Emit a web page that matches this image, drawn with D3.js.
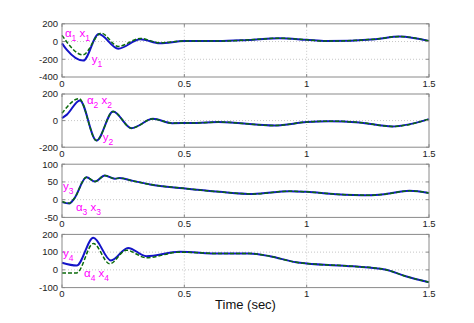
<!DOCTYPE html>
<html lang="en">
<head>
<meta charset="utf-8">
<title>Tracking response</title>
<script src="https://cdn.jsdelivr.net/npm/d3@7"></script>
<style>
  body { margin: 0; background: #fff; }
  text { font-family: "Liberation Sans", Arial, sans-serif; }
</style>
</head>
<body>
<script>
// sizes
var w = 474, h = 323;
var left = 62, right = 429;
var top0 = 23.8, step = 70.2, ph = 53.2;

// time axis
var xTicks = [0, 0.5, 1, 1.5];
var xTickLabels = ["0", "0.5", "1", "1.5"];

// y ranges and ticks per subplot
var yDomains = [[-400, 200], [-200, 200], [-50, 100], [-100, 200]];
var yTicks = [[-400, -200, 0, 200], [-200, 0, 200], [-50, 0, 50, 100], [-100, 0, 100, 200]];

// output y_i (solid blue)
var tY1 = [0, 0.02, 0.087, 0.15, 0.23, 0.32, 0.40, 0.5, 0.64, 0.76, 0.89, 1.0, 1.08, 1.28, 1.38, 1.5];
var vY1 = [-20, -95, -215, 85, -80, 25, -20, 6, 5, 18, 38, 19, 5, 27, 57, 5];
var tY2 = [0, 0.02, 0.073, 0.141, 0.209, 0.284, 0.372, 0.45, 0.55, 0.64, 0.87, 1.0, 1.09, 1.215, 1.35, 1.5];
var vY2 = [19, 45, 152, -150, 69, -57, 13, -19, -18, -11, -37, -11, -4, -14, -44, 11];
var tY3 = [0, 0.03, 0.05, 0.10, 0.135, 0.175, 0.216, 0.236, 0.29, 0.36, 0.495, 0.644, 0.78, 0.93, 1.0, 1.12, 1.255, 1.32, 1.42, 1.5];
var vY3 = [-7, -11, 3, 63, 51, 68, 59, 61, 53, 43, 32, 22, 16, 24, 22, 15.5, 12.6, 15.5, 25, 19];
var tY4 = [0, 0.06, 0.128, 0.20, 0.27, 0.345, 0.48, 0.644, 0.766, 0.85, 0.957, 1.0, 1.19, 1.32, 1.405, 1.5];
var vY4 = [40, 24, 181, 53, 124, 77, 102, 92, 92, 77, 43, 36, 20, 2, -36, -70];

// reference alpha_i x_i (dashed green)
var tX1 = [0, 0.085, 0.16, 0.23, 0.32, 0.40, 0.5, 0.64, 0.76, 0.89, 1.0, 1.08, 1.28, 1.38, 1.5];
var vX1 = [70, -150, 95, -55, 35, -15, 6, 5, 18, 38, 19, 5, 27, 57, 5];
var tX2 = [0, 0.07, 0.141, 0.209, 0.284, 0.372, 0.45, 0.55, 0.64, 0.87, 1.0, 1.09, 1.215, 1.35, 1.5];
var vX2 = [55, 165, -150, 69, -57, 13, -19, -18, -11, -37, -11, -4, -14, -44, 11];
var tX3 = tY3;
var vX3 = [-5, -10, 3, 63, 51, 68, 59, 61, 53, 43, 32, 22, 16, 24, 22, 15.5, 12.6, 15.5, 25, 19];
var tX4 = [0, 0.06, 0.128, 0.195, 0.263, 0.345, 0.48, 0.644, 0.766, 0.85, 0.957, 1.0, 1.19, 1.32, 1.405, 1.5];
var vX4 = [-17, -17, 149, 34, 111, 68, 100, 92, 92, 77, 43, 36, 20, 2, -36, -70];

// label anchors in data units: [t, value]
var yLabelPos = [[0.122, -241], [0.167, -152], [0.004, 27], [0.004, 75]];
var xLabelPos = [[0.012, 53], [0.102, 127], [0.057, -33], [0.09, -38]];

var outT = [tY1, tY2, tY3, tY4], outV = [vY1, vY2, vY3, vY4];
var refT = [tX1, tX2, tX3, tX4], refV = [vX1, vX2, vX3, vX4];

var svg = d3.select("body").append("svg")
  .attr("width", w).attr("height", h);

var x = d3.scaleLinear().domain([0, 1.5]).range([left, right]);

function zip(ts, vs) {
  return ts.map(function(t, i) { return [t, vs[i]]; });
}

// one subplot
function panel(k) {
  var y0 = top0 + k * step;
  var y = d3.scaleLinear().domain(yDomains[k]).range([y0 + ph, y0]);
  var g = svg.append("g");

  // dotted grid
  g.selectAll(".gx").data(xTicks.slice(1, -1)).enter().append("line")
    .attr("x1", d => x(d)).attr("x2", d => x(d))
    .attr("y1", y0).attr("y2", y0 + ph)
    .attr("stroke", "#b8b8b8").attr("stroke-width", 0.8)
    .attr("stroke-dasharray", "1,2");
  g.selectAll(".gy").data(yTicks[k].slice(1, -1)).enter().append("line")
    .attr("x1", left).attr("x2", right)
    .attr("y1", d => y(d)).attr("y2", d => y(d))
    .attr("stroke", "#b8b8b8").attr("stroke-width", 0.8)
    .attr("stroke-dasharray", "1,2");

  var line = d3.line()
    .x(d => x(d[0])).y(d => y(d[1]))
    .curve(d3.curveMonotoneX);

  g.append("path").datum(zip(outT[k], outV[k]))
    .attr("d", line).attr("fill", "none")
    .attr("stroke", "#1414c8").attr("stroke-width", 2);
  g.append("path").datum(zip(refT[k], refV[k]))
    .attr("d", line).attr("fill", "none")
    .attr("stroke", "#0b6b0b").attr("stroke-width", 1.5)
    .attr("stroke-dasharray", "4,2");

  // box with inward ticks
  g.append("rect").attr("x", left).attr("y", y0)
    .attr("width", right - left).attr("height", ph)
    .attr("fill", "none").attr("stroke", "#8a8a8a").attr("stroke-width", 1);
  xTicks.forEach(function(t) {
    g.append("line").attr("x1", x(t)).attr("x2", x(t))
      .attr("y1", y0 + ph).attr("y2", y0 + ph - 3).attr("stroke", "#8a8a8a");
    g.append("line").attr("x1", x(t)).attr("x2", x(t))
      .attr("y1", y0).attr("y2", y0 + 3).attr("stroke", "#8a8a8a");
  });
  yTicks[k].forEach(function(v) {
    g.append("line").attr("x1", left).attr("x2", left + 3)
      .attr("y1", y(v)).attr("y2", y(v)).attr("stroke", "#8a8a8a");
    g.append("line").attr("x1", right).attr("x2", right - 3)
      .attr("y1", y(v)).attr("y2", y(v)).attr("stroke", "#8a8a8a");
  });

  // tick labels
  g.selectAll(".yl").data(yTicks[k]).enter().append("text")
    .attr("x", left - 4).attr("y", d => y(d) + 3.3)
    .attr("text-anchor", "end").attr("font-size", "9.5px").attr("fill", "#222")
    .text(d => d);
  g.selectAll(".xl").data(xTicks).enter().append("text")
    .attr("x", d => x(d)).attr("y", y0 + ph + 9.5)
    .attr("text-anchor", "middle").attr("font-size", "9.5px").attr("fill", "#222")
    .text((d, i) => xTickLabels[i]);

  // curve labels
  var n = String(k + 1);
  var ly = g.append("text")
    .attr("x", x(yLabelPos[k][0])).attr("y", y(yLabelPos[k][1]))
    .attr("font-size", "11.5px").attr("fill", "#ff00ff");
  ly.append("tspan").text("y");
  ly.append("tspan").attr("dy", 4).attr("font-size", "8.5px").text(n);

  var lx = g.append("text")
    .attr("x", x(xLabelPos[k][0])).attr("y", y(xLabelPos[k][1]))
    .attr("font-size", "11.5px").attr("fill", "#ff00ff");
  lx.append("tspan").text("\u03b1");
  lx.append("tspan").attr("dy", 4).attr("font-size", "8.5px").text(n);
  lx.append("tspan").attr("dy", -4).text(" x");
  lx.append("tspan").attr("dy", 4).attr("font-size", "8.5px").text(n);
}

for (var k = 0; k < 4; k++) panel(k);

svg.append("text")
  .attr("x", (left + right) / 2).attr("y", 309)
  .attr("text-anchor", "middle").attr("font-size", "13px").attr("fill", "#111")
  .text("Time (sec)");
</script>
</body>
</html>
